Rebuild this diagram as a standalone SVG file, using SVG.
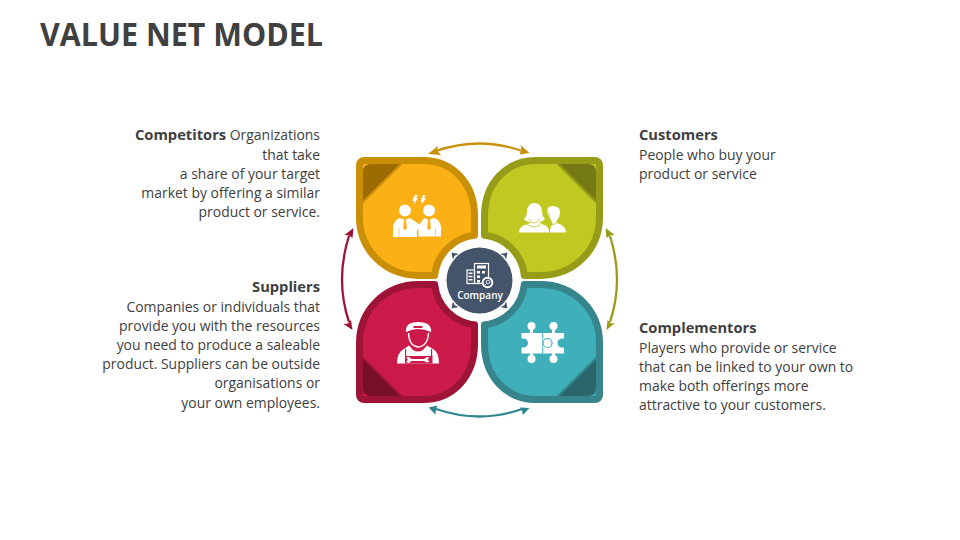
<svg xmlns="http://www.w3.org/2000/svg" width="960" height="540" viewBox="0 0 960 540">
<style>
text{font-family:"Open Sans","Liberation Sans",sans-serif;fill:#404040;font-size:13.950px}
.b{font-weight:700;font-size:14.700px}
.r{text-anchor:end}
.c{fill:none;stroke-width:2.300}
.ic{fill:#fff}
</style>
<defs>
<path id="leaf" d="M364 160.500H423C453 160.500 474.500 184 474.500 216V235.300A45 45 0 0 0 434.700 275.500H419C385 275.500 359.500 250 359.500 217V165A4.500 4.500 0 0 1 364 160.500Z" stroke-width="7" stroke-linejoin="round"/>
<path id="fold" d="M400 164H371Q363 164 363 172V201Z"/>
<path id="ar" d="M0 0L6 -4L4.500 0L6 4Z" fill="#44546a"/>
</defs>
<text x="40" y="46" textLength="283" lengthAdjust="spacingAndGlyphs" style="font-size:32px;font-weight:700;fill:#404040">VALUE NET MODEL</text>
<g id="connectors">
<path class="c" stroke="#c98f07" d="M436 151Q480 136 522 151"/><path fill="#c98f07" d="M428 154L438 146L437 150.500L441 155ZM529.500 153L520.500 145L521.500 150L519.500 154.500Z"/>
<path class="c" stroke="#2f8790" d="M436 409Q480 424 522 409"/><path fill="#2f8790" d="M428.500 407.500L437.500 405.500L436 409.500L435.500 414.500ZM529.500 408L520 407.500L522 411L523 415Z"/>
<path class="c" stroke="#9e1437" d="M349 236Q335 280 349 322"/><path fill="#9e1437" d="M353.500 228L344.500 235L349 235.500L352.500 238ZM352.500 330L343.500 324L348 323.500L351 320Z"/>
<path class="c" stroke="#979c18" d="M610 236Q624 280 610 322"/><path fill="#979c18" d="M605.500 228L614.500 235L610 235.500L606.500 238ZM606.500 330L615 323L611 323.500L607.500 320Z"/>
</g>
<g id="competitors">
<use href="#leaf" fill="#fbb116" stroke="#c98f07"/><use href="#fold" fill="#9c6c00"/>
<path d="M401.500 163.500L362.500 202.500" stroke="#c98f07" stroke-width="2"/>
<g class="ic"><circle cx="405" cy="210.500" r="6"/><circle cx="429" cy="210.500" r="6"/>
<path d="M393 237V227Q394 220 400 218L405 220L410 218L424 227.500L421.500 231.500L417 229V237Z"/>
<path d="M418.500 236.500V226L424 218L429 220L434 218Q440 220 441 227V236.500Z"/>
<path d="M413 199L415 195H418L416 198H418L413.500 205L414.500 201H412ZM421 200L423 195H425.500L424 198H426L421.500 205L422.500 202H420.500Z"/></g>
<path d="M404.300 220h1.400l.8 8l-1.500 2l-1.500-2zM428.300 220h1.400l.8 8l-1.500 2l-1.500-2zM399 228V237M435.500 228V237" fill="#fbb116" stroke="#fbb116" stroke-width=".6"/>
</g>
<g id="customers">
<g transform="matrix(-1 0 0 1 959 0)">
<use href="#leaf" fill="#c1c821" stroke="#979c18"/><use href="#fold" fill="#757a14"/>
<path d="M401.500 163.500L362.500 202.500" stroke="#979c18" stroke-width="2"/>
</g>
<g class="ic">
<path d="M519 232.500Q519 226 527 224.500L531 222.500Q525 221 524 219Q527 216 527 211Q528 203 534 203Q541 203 542 211Q542 216 545 219Q543 221 539 222.500L543 224.500Q549 226 549 232.500Z"/>
<path d="M550 232.500Q550 226 553 224.500L551 220Q547 214 547.500 211Q547 206 553 206Q560 206 560 212Q560 217 557 220L556 223Q566 225 566 232.500Z"/>
</g>
<path d="M529 219Q534 227 540 219M527 224.500Q534 229 541 224.500M549 212V222Q553 227 557 222" fill="none" stroke="#c1c821" stroke-width=".8"/>
</g>
<g id="suppliers">
<g transform="matrix(1 0 0 -1 0 560)">
<use href="#leaf" fill="#cc1b4b" stroke="#9e1437"/><use href="#fold" fill="#780e2a"/>
<path d="M401.500 163.500L362.500 202.500" stroke="#9e1437" stroke-width="2"/>
</g>
<g class="ic">
<path d="M406 332Q405 322 418 322Q432 322 431 332Q418 326 406 332Z"/>
<path d="M397 363.500Q397 352 404 349L409 345.500L413 350Q418 353 423 350L427 345.500L433 349Q439 352 439 363.500Z"/>
</g>
<path d="M408.500 333Q409 346 418 347Q428 346 428.500 333" fill="none" stroke="#fff" stroke-width="1.400"/>
<path d="M413.500 326h9v2h-9zM405 349h1.200v8h-1.200zM431 349h1.200v8h-1.200z" fill="#cc1b4b"/>
<path d="M405 356H432.500V363.500H405Z" fill="#cc1b4b"/>
<path d="M406 357.500L409 357L411.500 359H424L427 357L429.500 357.500L427.500 359.500L429.500 361.500L427 362.500L424 361H411.500L409 363L406 362L408 359.800Z" fill="#fff"/>
</g>
<g id="complementors">
<g transform="matrix(-1 0 0 -1 959 560)">
<use href="#leaf" fill="#3fafba" stroke="#37858c"/><use href="#fold" fill="#2a666c"/>
<path d="M401.500 163.500L362.500 202.500" stroke="#37858c" stroke-width="2"/>
</g>
<g class="ic">
<rect x="521.500" y="333" width="21" height="20.500"/><rect x="543" y="333" width="21" height="20.500"/>
<circle cx="531.500" cy="326" r="4"/><rect x="530" y="328" width="3" height="6"/>
<circle cx="531.500" cy="359" r="4"/><rect x="530" y="352" width="3" height="6"/>
<circle cx="553.500" cy="326" r="4"/><rect x="552" y="328" width="3" height="6"/>
<circle cx="553.500" cy="359" r="4"/><rect x="552" y="352" width="3" height="6"/>
</g>
<path d="M520.500 338.500h3a4.500 4.500 0 0 1 0 9h-3zM565 338.500h-3a4.500 4.500 0 0 0 0 9h3z" fill="#3fafba"/>
<circle cx="547.500" cy="343" r="4.500" fill="#fff" stroke="#3fafba" stroke-width="1.200"/>
<path d="M542.800 333V339M542.800 347V353.500" stroke="#3fafba" stroke-width=".8"/>
</g>
<g id="company">
<circle cx="479.500" cy="280.500" r="41" fill="#fff"/>
<circle cx="479.500" cy="280.500" r="33" fill="#44546a"/>
<use href="#ar" transform="translate(451.500 252.500) rotate(45)"/><use href="#ar" transform="translate(507.500 252.500) rotate(135)"/>
<use href="#ar" transform="translate(451.500 308.500) rotate(-45)"/><use href="#ar" transform="translate(507.500 308.500) rotate(-135)"/>
<g fill="none" stroke="#fff" stroke-width="1.200"><rect x="467" y="270" width="7.500" height="13.500"/><rect x="474.500" y="263.500" width="14" height="20"/></g>
<path fill="#fff" d="M477 265.500h9v3h-9zM468.500 272.500h4v1.400h-4zM468.500 275.800h4v1.400h-4zM468.500 279h4v1.400h-4zM477 271h3v2.500h-3zM482 271h3v2.500h-3zM477 275.500h3v2.500h-3zM477 280h3v2.500h-3z"/>
<circle cx="487.500" cy="282.500" r="5.800" fill="#fff"/><circle cx="487.500" cy="282.500" r="3.800" fill="#44546a"/>
<circle cx="488" cy="282" r="1.800" fill="none" stroke="#fff" stroke-width=".8"/><path d="M486.700 283.300L485 285" stroke="#fff" stroke-width=".9"/>
<text x="480" y="299" text-anchor="middle" style="fill:#fff;font-size:10px;font-weight:600">Company</text>
</g>
<g id="label-competitors"><text class="r" x="320" y="140"><tspan class="b">Competitors</tspan> Organizations</text><text class="r" x="320" y="160">that take</text><text class="r" x="320" y="179">a share of your target</text><text class="r" x="320" y="198">market by offering a similar</text><text class="r" x="320" y="217">product or service.</text></g>
<g id="label-suppliers"><text class="r b" x="320" y="292">Suppliers</text><text class="r" x="320" y="312">Companies or individuals that</text><text class="r" x="320" y="331">provide you with the resources</text><text class="r" x="320" y="350">you need to produce a saleable</text><text class="r" x="320" y="369">product. Suppliers can be outside</text><text class="r" x="320" y="388">organisations or</text><text class="r" x="320" y="408">your own employees.</text></g>
<g id="label-customers"><text class="b" x="639" y="140">Customers</text><text x="639" y="160">People who buy your</text><text x="639" y="179">product or service</text></g>
<g id="label-complementors"><text class="b" x="639" y="333">Complementors</text><text x="639" y="353">Players who provide or service</text><text x="639" y="372">that can be linked to your own to</text><text x="639" y="391">make both offerings more</text><text x="639" y="410">attractive to your customers.</text></g>
</svg>
